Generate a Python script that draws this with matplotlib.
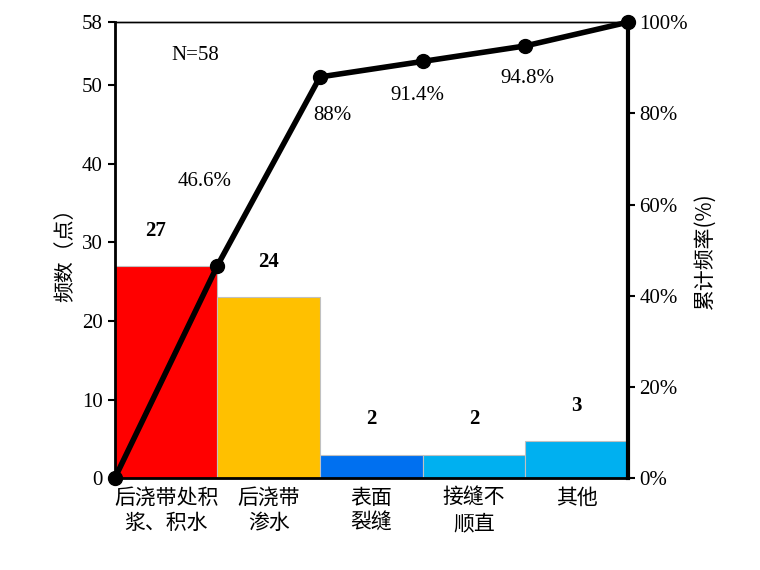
import matplotlib.pyplot as plt

plt.rcParams['font.family'] = ['Liberation Serif', 'Noto Sans CJK SC']

categories = ['后浇带处积\n浆、积水', '后浇带\n渗水', '表面\n裂缝', '接缝不\n顺直', '其他']
counts = [27, 24, 2, 2, 3]
# bar heights as drawn in the original picture
drawn = [27, 23, 3, 3, 4.7]
cum_pct = [0, 46.6, 88, 91.4, 94.8, 100]
cum_labels = ['', '46.6%', '88%', '91.4%', '94.8%', '']
colors = ['#FF0000', '#FFC000', '#0070F0', '#00B0F0', '#00B0F0']

fig = plt.figure(figsize=(7.6, 5.7), dpi=100)
ax = fig.add_axes([0.151, 0.161, 0.675, 0.8])
x = list(range(len(categories)))
ax.bar(x, drawn, width=1.0, color=colors, edgecolor='#C0C0C0', linewidth=0.8)
for xi, h, c in zip(x, drawn, counts):
    ax.text(xi - 0.1 if xi == 0 else xi, h + 4.5, str(c),
            ha='center', va='center', fontsize=15, fontweight='bold')
ax.set_xlim(-0.5, 4.5)
ax.set_ylim(0, 58)
ax.set_yticks([0, 10, 20, 30, 40, 50, 58])
ax.set_xticks(x)
ax.set_xticklabels(categories, fontsize=15, family=['Noto Sans CJK SC'])
ax.tick_params(axis='x', length=0, pad=6)
ax.tick_params(axis='y', labelsize=15, length=5, width=1.5)
ax.set_ylabel('频数（点）', fontsize=15, family=['Noto Sans CJK SC'])
for s in ax.spines.values():
    s.set_linewidth(2)
ax.spines['top'].set_linewidth(1)
ax.text(0.05, 53.8, 'N=58', fontsize=15, va='center')

ax2 = ax.twinx()
edges = [i - 0.5 for i in range(len(cum_pct))]
ax2.plot(edges, cum_pct, color='black', lw=4, marker='o', ms=10, clip_on=False, zorder=5)
ax2.set_ylim(0, 100)
ax2.set_yticks([0, 20, 40, 60, 80, 100])
ax2.set_yticklabels([f'{v}%' for v in [0, 20, 40, 60, 80, 100]])
ax2.tick_params(axis='y', labelsize=15, length=5, width=1.5)
ax2.set_ylabel('累计频率(%)', fontsize=15, family=['Noto Sans CJK SC', 'DejaVu Sans'])
ax2.spines['right'].set_linewidth(3)
ax2.spines['top'].set_linewidth(1)
label_pos = {1: (0.38, 65), 2: (1.62, 79.6), 3: (2.45, 84), 4: (3.52, 87.7)}
for i, (lx, ly) in label_pos.items():
    ax2.text(lx, ly, cum_labels[i], fontsize=15, ha='center', va='center')

fig.savefig('out.png', dpi=100)
